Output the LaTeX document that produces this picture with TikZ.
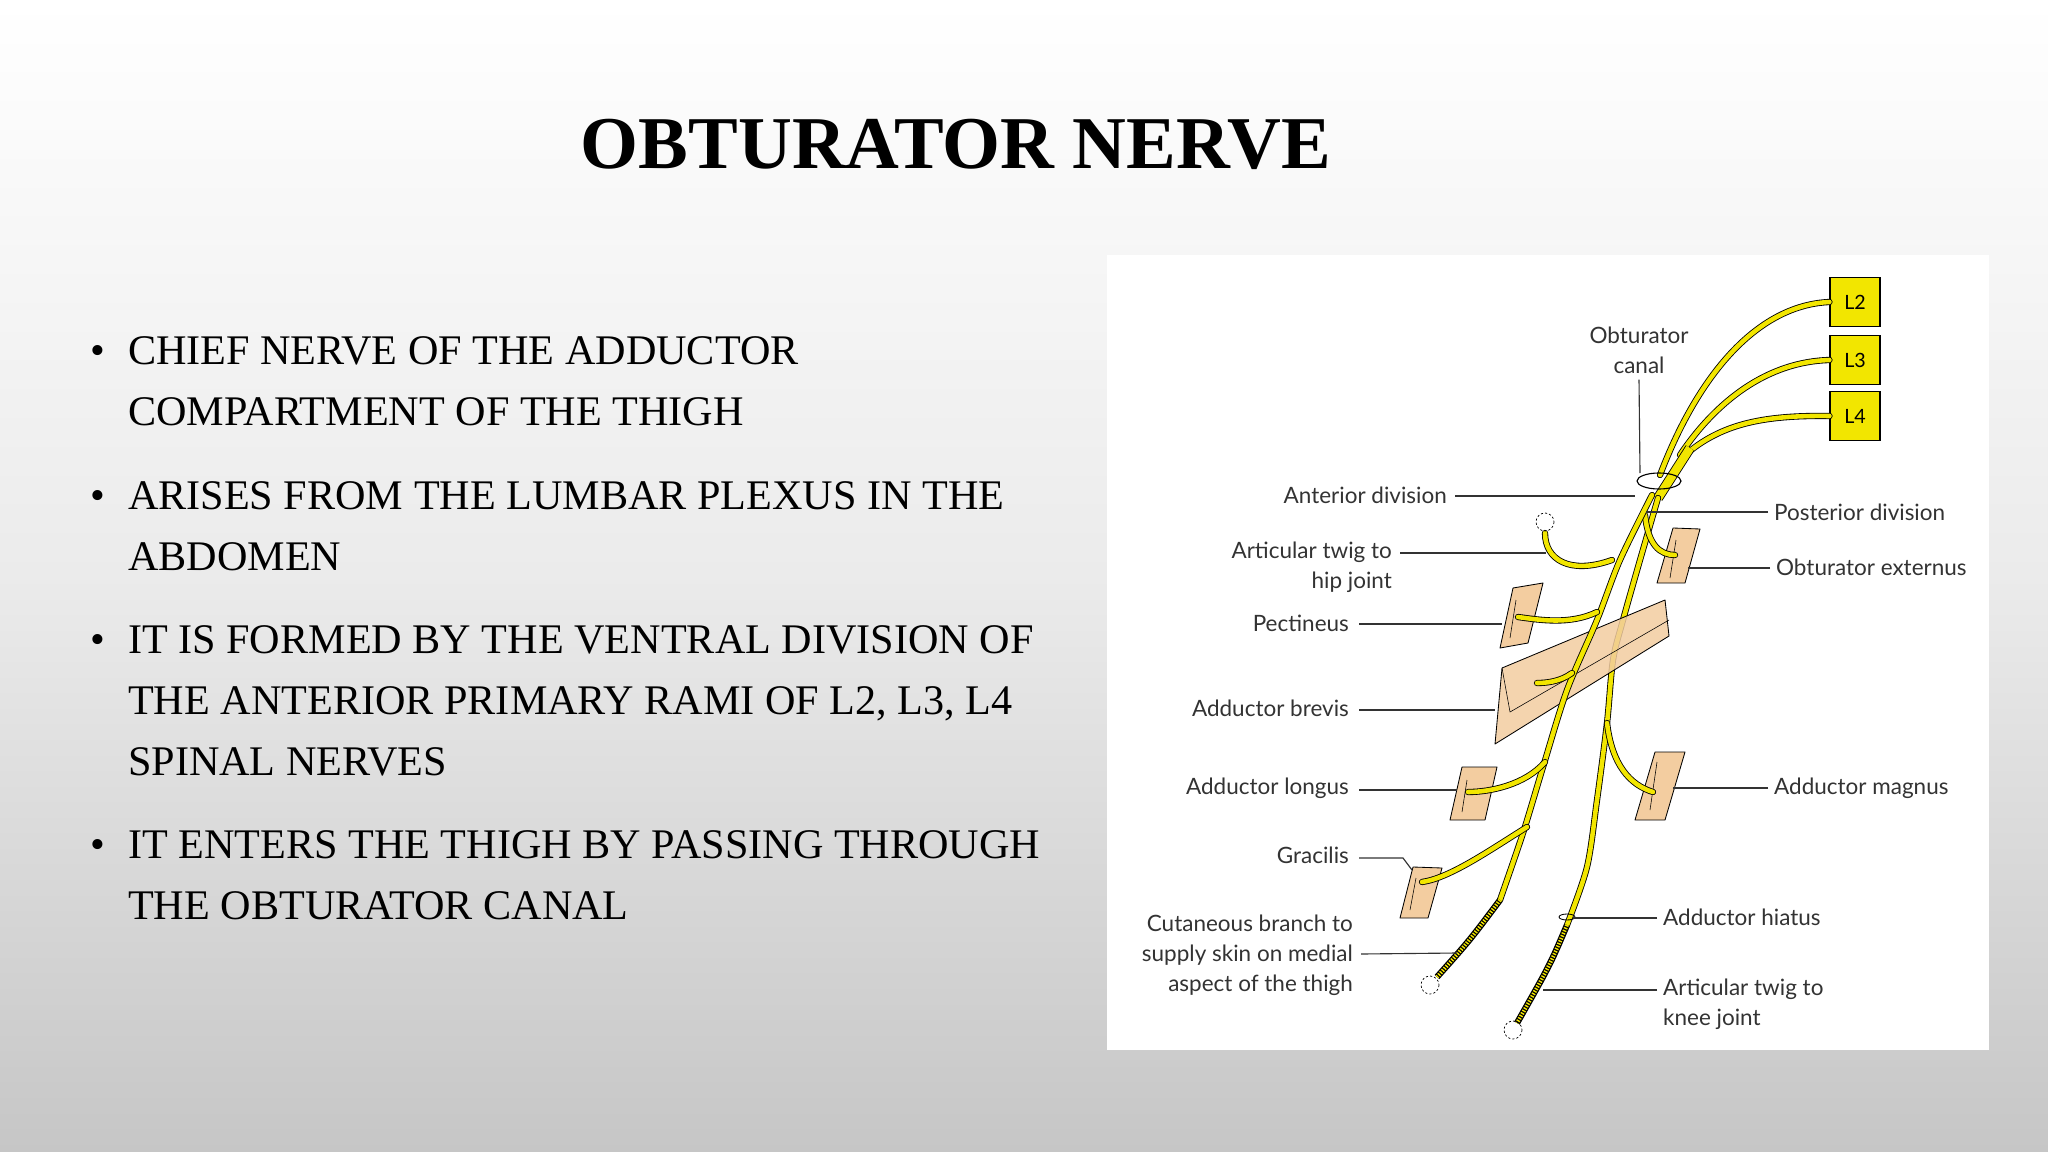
\documentclass[tikz,border=0pt]{standalone}
\usepackage{fontspec}
\setmainfont{Liberation Serif}
\newfontfamily\labfont{Lato}
\definecolor{nerveY}{HTML}{F2E600}
\definecolor{musc}{HTML}{F3CDA0}
\definecolor{labgray}{HTML}{333333}
\begin{document}
\begin{tikzpicture}[x=0.05cm,y=-0.05cm,
  nerve/.style={draw=black,double=nerveY,double distance=6.5pt,line width=1.2pt,line cap=round},
  trunk/.style={draw=black,double=nerveY,double distance=12pt,line width=1.2pt},
  muscle/.style={fill=musc,draw=black,line width=1.2pt,line join=round},
  lab/.style={font=\labfont\fontsize{32}{43}\selectfont,text=labgray,inner sep=0pt},
  lline/.style={draw=labgray,line width=1.6pt},
  bul/.style={font=\fontsize{60}{66}\selectfont,anchor=base west,inner sep=0pt},
  lbox/.style={draw=black,fill=nerveY,line width=1.5pt,minimum width=50*0.05cm,minimum height=49*0.05cm,inner sep=0pt,font=\labfont\fontsize{28}{30}\selectfont},
  endc/.style={draw=black,dashed,line width=1pt}]
\shade[top color=white,bottom color={rgb,255:red,198;green,198;blue,198},middle color={rgb,255:red,235;green,235;blue,235}] (0,0) rectangle (2048,1152);
\useasboundingbox (0,0) rectangle (2048,1152);
% title
\node[font=\bfseries\fontsize{106}{114}\selectfont,inner sep=0pt] (title) at (956,144) {OBTURATOR NERVE};
% bullets
\foreach \y/\t [count=\i] in {364/CHIEF NERVE OF THE ADDUCTOR,509/ARISES FROM THE LUMBAR PLEXUS IN THE,653/IT IS FORMED BY THE VENTRAL DIVISION OF,858/IT ENTERS THE THIGH BY PASSING THROUGH}{
  \node[bul] (bd\i) at (90,\y) {\textbullet};
  \node[bul] (b\i) at (128,\y) {\t};
}
\node[bul] (c1) at (128,425) {COMPARTMENT OF THE THIGH};
\node[bul] (c2) at (128,570) {ABDOMEN};
\node[bul] (c3) at (128,714) {THE ANTERIOR PRIMARY RAMI OF L2, L3, L4};
\node[bul] (c4) at (128,775) {SPINAL NERVES};
\node[bul] (c5) at (128,919) {THE OBTURATOR CANAL};
% panel
\fill[white] (1107,255) rectangle (1989,1050);
% L boxes
\node[lbox] (L2) at (1855,302) {L2};
\node[lbox] (L3) at (1855,360) {L3};
\node[lbox] (L4) at (1855,416) {L4};
% roots
\draw[nerve] (L2.west) .. controls (1760,305) and (1700,370) .. (1660,475);
\draw[nerve] (L3.west) .. controls (1760,362) and (1710,410) .. (1680,455);
\draw[nerve] (L4.west) .. controls (1760,415) and (1720,425) .. (1685,455);
\draw[trunk] (1690,448) -- (1658,498);
% posterior division
\draw[nerve] plot[smooth] coordinates {(1658,498) (1640,560) (1623,620) (1613,660) (1607,723) (1597,800) (1587,867) (1567,925)};
\draw[black,line width=9pt] (1567,925) .. controls (1550,965) .. (1517,1023);
\draw[nerveY,line width=5.5pt,dash pattern=on 2pt off 2pt] (1567,925) .. controls (1550,965) .. (1517,1023);
% obturator externus
\draw[muscle] (1673,528) -- (1700,529) -- (1685,583) -- (1657,583) -- cycle;
\draw[black,line width=0.8pt] (1676,540) -- (1670,578);
\draw[nerve] (1645,515) .. controls (1648,545) and (1660,555) .. (1675,555);
% adductor magnus
\draw[muscle] (1655,752) -- (1685,752) -- (1665,820) -- (1635,820) -- cycle;
\draw[black,line width=0.8pt] (1657,762) -- (1650,810);
\draw[nerve] (1607,723) .. controls (1612,765) and (1630,785) .. (1653,792);
% adductor brevis
\draw[muscle,fill opacity=0.85] (1502,668) -- (1665,600) -- (1669,636) -- (1495,744) -- cycle;
\draw[black,line width=0.8pt] (1502,668) -- (1510,712) -- (1669,620);
% anterior division
\draw[nerve] plot[smooth] coordinates {(1652,495) (1620,560) (1597,620) (1567,690) (1543,767) (1523,833) (1500,900)};
\draw[black,line width=9pt] (1500,900) .. controls (1470,940) .. (1437,977);
\draw[nerveY,line width=5.5pt,dash pattern=on 2pt off 2pt] (1500,900) .. controls (1470,940) .. (1437,977);
% articular twig hip
\draw[nerve] (1612,560) .. controls (1570,575) and (1545,560) .. (1545,533);
% pectineus
\draw[muscle] (1513,588) -- (1543,583) -- (1528,643) -- (1500,648) -- cycle;
\draw[black,line width=0.8pt] (1516,600) -- (1510,638);
\draw[nerve] (1597,612) .. controls (1570,625) and (1540,620) .. (1518,617);
% brevis branch
\draw[nerve] (1572,673) .. controls (1560,682) and (1545,683) .. (1537,683);
% adductor longus
\draw[muscle] (1462,767) -- (1497,767) -- (1485,820) -- (1450,820) -- cycle;
\draw[black,line width=0.8pt] (1467,780) -- (1462,812);
\draw[nerve] (1545,762) .. controls (1525,785) and (1490,792) .. (1468,792);
% gracilis
\draw[muscle] (1413,867) -- (1442,868) -- (1428,918) -- (1400,918) -- cycle;
\draw[black,line width=0.8pt] (1416,878) -- (1410,910);
\draw[nerve] (1527,827) .. controls (1490,850) and (1450,878) .. (1422,882);
% canal and hiatus
\draw[black,line width=1.6pt] (1659,481) ellipse (22 and 8);
\draw[black,line width=1.2pt] (1567,917) ellipse (8 and 3);
% end circles
\draw[endc] (1545,522) circle (9);
\draw[endc] (1430,985) circle (9);
\draw[endc] (1513,1030) circle (9);
% labels
\node[lab,align=center] (canal) at (1639,350) {Obturator\\canal};
\draw[lline] (canal.south) ++(0,6) coordinate (cs) -- (1640,473) coordinate (ce);
\node[lab,anchor=east] (ant) at (1447,495) {Anterior division};
\coordinate (antE) at (1635,496);
\draw[lline] (ant.east) ++(8,1) -- (antE);
\node[lab,anchor=west] (post) at (1774,512) {Posterior division};
\coordinate (postE) at (1646,512);
\draw[lline] (post.west) ++(-6,0) -- (postE);
\node[lab,anchor=east,align=right] (hip) at (1392,567) {Articular twig to\\hip joint};
\coordinate (hipE) at (1546,553);
\draw[lline] (1400,553) -- (hipE);
\node[lab,anchor=west] (ext) at (1776,567) {Obturator externus};
\coordinate (extE) at (1688,568);
\draw[lline] (ext.west) ++(-6,1) -- (extE);
\node[lab,anchor=east] (pect) at (1349,623) {Pectineus};
\coordinate (pectE) at (1502,624);
\draw[lline] (pect.east) ++(10,1) -- (pectE);
\node[lab,anchor=east] (brev) at (1349,708) {Adductor brevis};
\coordinate (brevE) at (1495,710);
\draw[lline] (brev.east) ++(10,2) -- (brevE);
\node[lab,anchor=east] (long) at (1349,788) {Adductor longus};
\coordinate (longE) at (1457,790);
\draw[lline] (long.east) ++(10,2) -- (longE);
\node[lab,anchor=west] (mag) at (1774,788) {Adductor magnus};
\coordinate (magE) at (1673,788);
\draw[lline] (mag.west) ++(-6,0) -- (magE);
\node[lab,anchor=east] (grac) at (1349,855) {Gracilis};
\coordinate (gracE) at (1412,870);
\draw[lline] (grac.east) ++(10,3) -- (1403,858) -- (gracE);
\node[lab,anchor=east,align=right] (cut) at (1353,955) {Cutaneous branch to\\supply skin on medial\\aspect of the thigh};
\coordinate (cutE) at (1457,953);
\draw[lline] (cut.east) ++(8,-1) -- (cutE);
\node[lab,anchor=west] (hiat) at (1663,917) {Adductor hiatus};
\coordinate (hiatE) at (1573,918);
\draw[lline] (hiat.west) ++(-6,1) -- (hiatE);
\node[lab,anchor=west,align=left] (knee) at (1663,1004) {Articular twig to\\knee joint};
\coordinate (kneeE) at (1543,990);
\draw[lline] (1657,990) -- (kneeE);
\end{tikzpicture}
\end{document}
